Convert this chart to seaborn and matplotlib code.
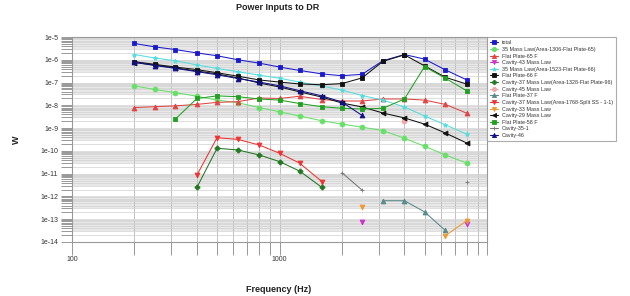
import numpy as np
import pandas as pd
import matplotlib
matplotlib.use("Agg")
import matplotlib.pyplot as plt
import seaborn as sns
from matplotlib.lines import Line2D
from matplotlib.ticker import FixedLocator, NullFormatter

nan = np.nan
freqs = [200, 250, 315, 400, 500, 630, 800, 1000, 1250, 1600, 2000, 2500, 3150, 4000, 5000, 6300, 8000]

total = [5.2e-6, 3.7e-6, 2.8e-6, 2.0e-6, 1.5e-6, 1.0e-6, 7.1e-7, 4.8e-7, 3.4e-7, 2.4e-7, 2.0e-7, 2.3e-7, 9.1e-7, 1.7e-6, 1.07e-6, 3.6e-7, 1.3e-7]
mass_1306 = [7.1e-8, 5.0e-8, 3.6e-8, 2.5e-8, 1.7e-8, 1.3e-8, 8.0e-9, 5.2e-9, 3.4e-9, 2.1e-9, 1.5e-9, 1.1e-9, 7.8e-10, 3.6e-10, 1.6e-10, 6.6e-11, 2.9e-11]
flat_65 = [8.0e-9, 8.7e-9, 9.5e-9, 1.1e-8, 1.35e-8, 1.45e-8, 2.1e-8, 2.0e-8, 2.5e-8, 1.8e-8, 1.55e-8, 1.55e-8, 1.9e-8, 1.9e-8, 1.7e-8, 1.1e-8, 4.5e-9]
cav_43 = [nan] * 11 + [7.4e-14, nan, nan, nan, nan, 6.3e-14]
mass_1523 = [1.7e-6, 1.2e-6, 9.1e-7, 5.9e-7, 4.2e-7, 3.0e-7, 2.1e-7, 1.55e-7, 1.05e-7, 7.0e-8, 4.7e-8, 2.7e-8, 1.7e-8, 8.5e-9, 3.4e-9, 1.4e-9, 5.4e-10]
flat_66 = [8.3e-7, 6.3e-7, 4.8e-7, 3.7e-7, 2.7e-7, 1.9e-7, 1.3e-7, 1.05e-7, 8.7e-8, 8.0e-8, 9.0e-8, 1.6e-7, 8.5e-7, 1.65e-6, 5.4e-7, 1.7e-7, 8.5e-8]
cav_37_1328 = [nan, nan, nan, 2.5e-12, 1.3e-10, 1.1e-10, 6.6e-11, 3.4e-11, 1.3e-11, 2.5e-12] + [nan] * 7
cav_45 = [nan] * 13 + [2.0e-9, nan, nan, nan]
flat_37 = [nan] * 12 + [6.5e-13, 6.5e-13, 2.1e-13, 3.2e-14, nan]
cav_37_1768 = [nan, nan, nan, 8.7e-12, 3.8e-10, 3.2e-10, 1.8e-10, 7.9e-11, 2.9e-11, 4.5e-12] + [nan] * 7
cav_33 = [nan] * 11 + [3.5e-13, nan, nan, nan, 1.9e-14, 8.7e-14]
cav_29 = [7.5e-7, 5.9e-7, 4.4e-7, 3.2e-7, 2.4e-7, 1.6e-7, 9.5e-8, 6.4e-8, 3.9e-8, 2.3e-8, 1.26e-8, 8.5e-9, 4.6e-9, 2.8e-9, 1.5e-9, 6.1e-10, 2.2e-10]
flat_58 = [nan, nan, 2.5e-9, 2.0e-8, 2.6e-8, 2.4e-8, 1.9e-8, 1.7e-8, 1.2e-8, 8.7e-9, 7.4e-9, 6.9e-9, 7.4e-9, 1.9e-8, 5.0e-7, 1.55e-7, 4.3e-8]
cav_35_1 = [nan] * 10 + [1.1e-11, 1.9e-12, nan, nan, nan, nan, 4.5e-12]
cav_46 = [7.9e-7, 5.6e-7, 4.2e-7, 3.0e-7, 2.2e-7, 1.5e-7, 1.05e-7, 7.2e-8, 4.4e-8, 2.6e-8, 1.4e-8, 3.6e-9] + [nan] * 5

series_names = [
    "total",
    "35 Mass Law(Area-1306-Flat Plate-65)",
    "Flat Plate-65 F",
    "Cavity-43 Mass Law",
    "35 Mass Law(Area-1523-Flat Plate-66)",
    "Flat Plate-66 F",
    "Cavity-37 Mass Law(Area-1328-Flat Plate-96)",
    "Cavity-45 Mass Law",
    "Flat Plate-37 F",
    "Cavity-37 Mass Law(Area-1768-Split SS - 1-1)",
    "Cavity-33 Mass Law",
    "Cavity-29 Mass Law",
    "Flat Plate-58 F",
    "Cavity-35-1",
    "Cavity-46",
]
series_values = [total, mass_1306, flat_65, cav_43, mass_1523, flat_66, cav_37_1328,
                 cav_45, flat_37, cav_37_1768, cav_33, cav_29, flat_58, cav_35_1, cav_46]
colors = ["#1a1acc", "#66e066", "#e04444", "#cc33cc", "#55dddd", "#111111", "#227722",
          "#f0a8a8", "#5a8a8a", "#ee3333", "#ee9a33", "#111111", "#22a022", "#777777", "#10108a"]
markers = ["s", "o", "^", "v", "*", "s", "P", "o", "^", "v", "v", "<", "s", "+", "^"]

y_exps = list(range(-14, -4))
x_major = [100, 1000, 10000]
x_major_labels = ["100", "1000", ""]

sns.set_theme(style="white")
plt.rcParams["font.family"] = ["Liberation Sans", "DejaVu Sans"]

fig = plt.figure(figsize=(6.3, 2.96), dpi=100)
L, R, T, B = 72, 487, 37, 242
ax = fig.add_axes([L / 630, 1 - B / 296, (R - L) / 630, (B - T) / 296])
ax.set_xscale("log")
ax.set_yscale("log")
ax.set_xlim(100, 10000)
ax.set_ylim(1e-14, 1e-5)

# background bands
for e in y_exps[1:]:
    ax.axhspan(10.0 ** e * 0.3, 10.0 ** e * 0.93, color="#e8e8e8", lw=0, zorder=0)

for name, vals, c, m in zip(series_names, series_values, colors, markers):
    df = pd.DataFrame({"f": freqs, "w": vals})
    df["seg"] = df["w"].isna().cumsum()
    df = df.dropna()
    sns.lineplot(data=df, x="f", y="w", units="seg", estimator=None, color=c,
                 marker=m, markersize=3.5, markeredgecolor=c, markeredgewidth=0.6,
                 linewidth=0.75, ax=ax, legend=False, zorder=3)

ax.set_xlim(100, 10000)
ax.set_ylim(1e-14, 1e-5)

ax.xaxis.set_major_locator(FixedLocator(x_major))
ax.set_xticklabels(x_major_labels)
xminor = [m * 10 ** k for k in (2, 3) for m in range(2, 10)]
ax.xaxis.set_minor_locator(FixedLocator(xminor))
ax.xaxis.set_minor_formatter(NullFormatter())

ax.yaxis.set_major_locator(FixedLocator([10.0 ** e for e in y_exps]))
ax.set_yticklabels([f"1e{e}" for e in y_exps])
yminor = [m * 10.0 ** e for e in y_exps[:-1] for m in range(2, 10)]
ax.yaxis.set_minor_locator(FixedLocator(yminor))
ax.yaxis.set_minor_formatter(NullFormatter())

ax.grid(True, which="both", axis="x", color="#b8b8b8", lw=0.6, zorder=1)
ax.grid(True, which="both", axis="y", color="#d2d2d2", lw=0.5, zorder=1)
ax.set_axisbelow(True)

ax.tick_params(axis="both", which="both", direction="out", length=8, width=0.6,
               color="#888888", labelsize=5, labelcolor="#333333", pad=2,
               bottom=True, left=True, top=False, right=False)
ax.tick_params(axis="x", which="both", length=9, pad=1)
for s in ax.spines.values():
    s.set_color("#999999")
    s.set_linewidth(0.8)
ax.set_xlabel("")
ax.set_ylabel("")

handles = [Line2D([], [], color=c, marker=m, markersize=3.0, markeredgecolor=c,
                  markeredgewidth=0.6, lw=0.8) for c, m in zip(colors, markers)]
leg = ax.legend(handles, series_names, loc="upper left", bbox_to_anchor=(1.0, 1.0),
                borderaxespad=0, fontsize=3.9, frameon=True, fancybox=False,
                edgecolor="#999999", handlelength=1.4, labelspacing=0.3,
                borderpad=0.6, handletextpad=0.7)
leg.get_frame().set_linewidth(0.8)
for t in leg.get_texts():
    t.set_color("#333333")

fig.text(278 / 630, 1 - 7 / 296, "Power Inputs to DR", ha="center", va="center",
         fontsize=6.5, fontweight="bold", color="#222222")
fig.text(279 / 630, 1 - 290 / 296, "Frequency (Hz)", ha="center", va="center",
         fontsize=6.5, fontweight="bold", color="#222222")
fig.text(16 / 630, 1 - 140 / 296, "W", ha="center", va="center", rotation=90,
         fontsize=6.5, fontweight="bold", color="#222222")

fig.savefig("out.png", dpi=100)
